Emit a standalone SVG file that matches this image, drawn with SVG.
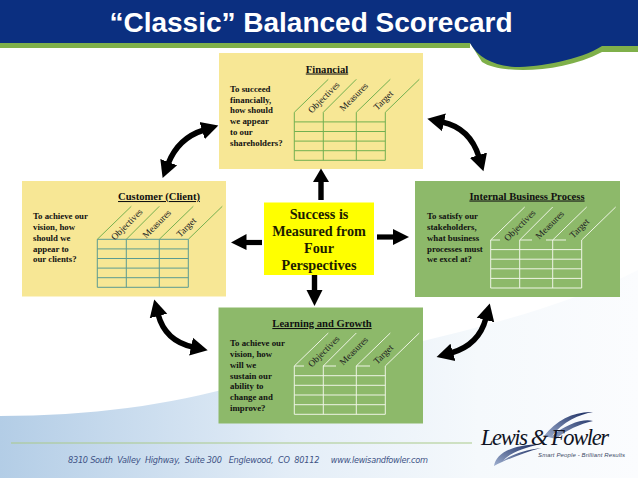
<svg xmlns="http://www.w3.org/2000/svg" xmlns:xlink="http://www.w3.org/1999/xlink" width="638" height="478" viewBox="0 0 638 478">
<style>
.box-y{fill:#f7e795}.box-g{fill:#8db96a}
.ttl{font:bold 10.6px "Liberation Serif",serif;text-decoration:underline;text-anchor:middle;fill:#111}
.txt{font:bold 8.8px "Liberation Serif",serif;fill:#111}
.col{font:9.4px "Liberation Serif",serif;text-anchor:middle;fill:#222}
.grid{fill:none;stroke-width:1}
.mid{font:bold 14.2px "Liberation Serif",serif;text-anchor:middle;fill:#1c1c00}
.curve{fill:none;stroke:#000;stroke-width:5.5}
</style>
<defs>
<linearGradient id="bg" x1="0" y1="0" x2="1" y2="0"><stop offset="0" stop-color="#b3cde6"/><stop offset=".45" stop-color="#e3edf7"/><stop offset=".75" stop-color="#f5f9fc"/><stop offset="1" stop-color="#fbfcfe"/></linearGradient>
<linearGradient id="sw" x1="0" y1="1" x2="1" y2="0"><stop offset="0" stop-color="#9fb0d0"/><stop offset="1" stop-color="#14265c"/></linearGradient>
<marker id="ah" markerUnits="userSpaceOnUse" markerWidth="20" markerHeight="22" refX="2" refY="10" orient="auto-start-reverse" viewBox="0 0 20 20"><path d="M0,1 L17,10 L0,19 Z" fill="#000"/></marker>
<g id="lines">
<path d="M0,0 L34,-33 M29,0 L62,-33 M62,0 L96,-33 M91,0 L125,-33 M0,0 V48 M29,0 V48 M62,0 V48 M91,0 V48 M0,9.6 H91 M0,19.2 H91 M0,28.8 H91 M0,38.4 H91 M0,48 H91"/>
</g>
</defs>
<rect width="638" height="478" fill="#fff"/>
<path id="backdrop" d="M0,416 C90,416 170,405 240,385 C340,355 520,330 638,270 V478 H0 Z" fill="url(#bg)"/>
<g id="header">
<path d="M0,43 H470 L482,62 C500,74 560,74 602,52 L620,52 L638,52 V46 H602 L470,43 V48 H0 Z" fill="#7fb04a"/>
<path d="M0,0 H638 V46 H602 C580,60 540,67 515,67 C495,66 478,58 470,43 H0 Z" fill="#0b2f80"/>
<text x="311" y="32" font-family="Liberation Sans,sans-serif" font-weight="bold" font-size="28" text-anchor="middle" fill="#fff">“Classic” Balanced Scorecard</text>
</g>
<g id="footer">
<path d="M11,443 H472" stroke="#a9c98a" stroke-width="1.2"/>
<text x="68" y="463" font-family="DejaVu Sans,sans-serif" font-style="italic" font-size="8.200" fill="#3d5285" style="white-space:pre" textLength="360">8310 South  Valley  Highway,  Suite 300   Englewood,  CO  80112     www.lewisandfowler.com</text>
</g>
<g id="logo">
<path d="M544,436 C556,420 575,411 593,412 C580,414 562,422 552,436 C566,424 584,418 593,421 C580,424 566,430 556,439 Z" fill="url(#sw)"/>
<path d="M494,466 C496,454 510,445 541,444 C522,448 508,454 503,461 C510,455 525,450 541,448 C522,453 506,460 494,466 Z" fill="url(#sw)"/>
<text x="481" y="445" font-family="Liberation Serif,serif" font-style="italic" font-size="22.5" fill="#10131f" textLength="128">Lewis &amp; Fowler</text>
<text x="538" y="457" font-family="Liberation Sans,sans-serif" font-style="italic" font-size="6" fill="#3d4a66" textLength="87">Smart People - Brilliant Results</text>
</g>
<g id="financial">
<rect class="box-y" x="219" y="53" width="204" height="116"/>
<text class="ttl" x="327" y="72.5">Financial</text>
<text class="txt"><tspan x="230" y="92">To succeed</tspan><tspan x="230" y="102.7">financially,</tspan><tspan x="230" y="113.4">how should</tspan><tspan x="230" y="124.1">we appear</tspan><tspan x="230" y="134.8">to our</tspan><tspan x="230" y="145.5">shareholders?</tspan></text>
<use xlink:href="#lines" href="#lines" x="294.3" y="112.3" class="grid" stroke="#72b050"/>
<text class="col" transform="translate(326,99.500) rotate(-45)">Objectives</text>
<text class="col" transform="translate(356,99) rotate(-45)">Measures</text>
<text class="col" transform="translate(385.500,102.500) rotate(-45)">Target</text>
</g>
<g id="customer">
<rect class="box-y" x="22" y="181" width="204" height="115.500"/>
<text class="ttl" x="159" y="200">Customer (Client)</text>
<text class="txt"><tspan x="33" y="219">To achieve our</tspan><tspan x="33" y="230">vision, how</tspan><tspan x="33" y="241">should we</tspan><tspan x="33" y="252">appear to</tspan><tspan x="33" y="262">our clients?</tspan></text>
<path d="M97.300,239.300 L131.300,206.300 M126.300,239.300 L159.300,206.300 M159.300,239.300 L193.300,206.300 M188.300,239.300 L222.300,206.300" stroke="#76b050" fill="none"/>
<path d="M97.300,239.300 V287.300 M126.300,239.300 V287.300 M159.300,239.300 V287.300 M188.300,239.300 V287.300 M97.300,239.300 H188.300 M97.300,248.900 H188.300 M97.300,258.500 H188.300 M97.300,268.100 H188.300 M97.300,277.700 H188.300 M97.300,287.300 H188.300" stroke="#5c9c92" fill="none"/>
<text class="col" transform="translate(129,226.500) rotate(-45)">Objectives</text>
<text class="col" transform="translate(159,226) rotate(-45)">Measures</text>
<text class="col" transform="translate(188.500,229.500) rotate(-45)">Target</text>
</g>
<g id="internal">
<rect class="box-g" x="415" y="181" width="205" height="116"/>
<text class="ttl" x="527" y="199.500">Internal Business Process</text>
<text class="txt"><tspan x="427" y="219.300">To satisfy our</tspan><tspan x="427" y="230">stakeholders,</tspan><tspan x="427" y="241">what business</tspan><tspan x="427" y="252">processes must</tspan><tspan x="427" y="262">we excel at?</tspan></text>
<path d="M490.700,240 L524.700,207 M519.700,240 L552.700,207 M552.700,240 L586.700,207 M581.700,240 L615.700,207 M490.700,240 V288 M519.700,240 V288 M552.700,240 V288 M581.700,240 V288 M490.700,249.600 H581.700 M490.700,259.200 H581.700 M490.700,268.800 H581.700 M490.700,278.400 H581.700 M490.700,288 H581.700 M490.700,240 H500 M520,240 H532 M546,240 H566" stroke="#eef4e4" fill="none"/>
<text class="col" transform="translate(522,227.500) rotate(-45)">Objectives</text>
<text class="col" transform="translate(552,227) rotate(-45)">Measures</text>
<text class="col" transform="translate(581.500,230.500) rotate(-45)">Target</text>
</g>
<g id="learning">
<rect class="box-g" x="218.500" y="307.500" width="204.500" height="116"/>
<text class="ttl" x="322" y="327">Learning and Growth</text>
<text class="txt"><tspan x="230" y="346">To achieve our</tspan><tspan x="230" y="357">vision, how</tspan><tspan x="230" y="367.500">will we</tspan><tspan x="230" y="378.700">sustain our</tspan><tspan x="230" y="389">ability to</tspan><tspan x="230" y="400">change and</tspan><tspan x="230" y="411">improve?</tspan></text>
<path d="M294.300,366 L328.300,333 M323.300,366 L356.300,333 M356.300,366 L390.300,333 M385.300,366 L419.300,333 M294.300,366 V414.300 M323.300,366 V414.300 M356.300,366 V414.300 M385.300,366 V414.300 M294.300,375.700 H385.300 M294.300,385.300 H385.300 M294.300,395 H385.300 M294.300,404.700 H385.300 M294.300,414.300 H385.300 M294.300,366 H304 M323,366 H336 M356,366 H370" stroke="#eef4e4" fill="none"/>
<text class="col" transform="translate(326,353.500) rotate(-45)">Objectives</text>
<text class="col" transform="translate(356,353) rotate(-45)">Measures</text>
<text class="col" transform="translate(385.500,356.500) rotate(-45)">Target</text>
</g>
<g id="center">
<rect x="264" y="202.500" width="110" height="72.500" fill="#ffff00"/>
<text class="mid"><tspan x="319" y="219">Success is</tspan><tspan x="319" y="236">Measured from</tspan><tspan x="319" y="253">Four</tspan><tspan x="319" y="270">Perspectives</tspan></text>
</g>
<g id="connectors">
<path d="M321,200 V182" stroke="#000" stroke-width="5.400" fill="none"/><path d="M313,182 H329 L321,168.500 Z"/>
<path d="M377,237 H394" stroke="#000" stroke-width="5.200" fill="none"/><path d="M393,229 V245 L409,237 Z"/>
<path d="M262,242.500 H246" stroke="#000" stroke-width="5.200" fill="none"/><path d="M246.500,234 V250 L231,242.500 Z"/>
<path d="M314.500,275 V291" stroke="#000" stroke-width="5.400" fill="none"/><path d="M306.500,290 H322.500 L314.500,306 Z"/>
<path class="curve" d="M204,130 Q178,138 168,164" marker-start="url(#ah)" marker-end="url(#ah)"/>
<path class="curve" d="M442,122 Q470,128 479,157" marker-start="url(#ah)" marker-end="url(#ah)"/>
<path class="curve" d="M158,314 Q165,341 193,347" marker-start="url(#ah)" marker-end="url(#ah)"/>
<path class="curve" d="M486,318 Q479,345 451,353" marker-start="url(#ah)" marker-end="url(#ah)"/>
</g>
</svg>
